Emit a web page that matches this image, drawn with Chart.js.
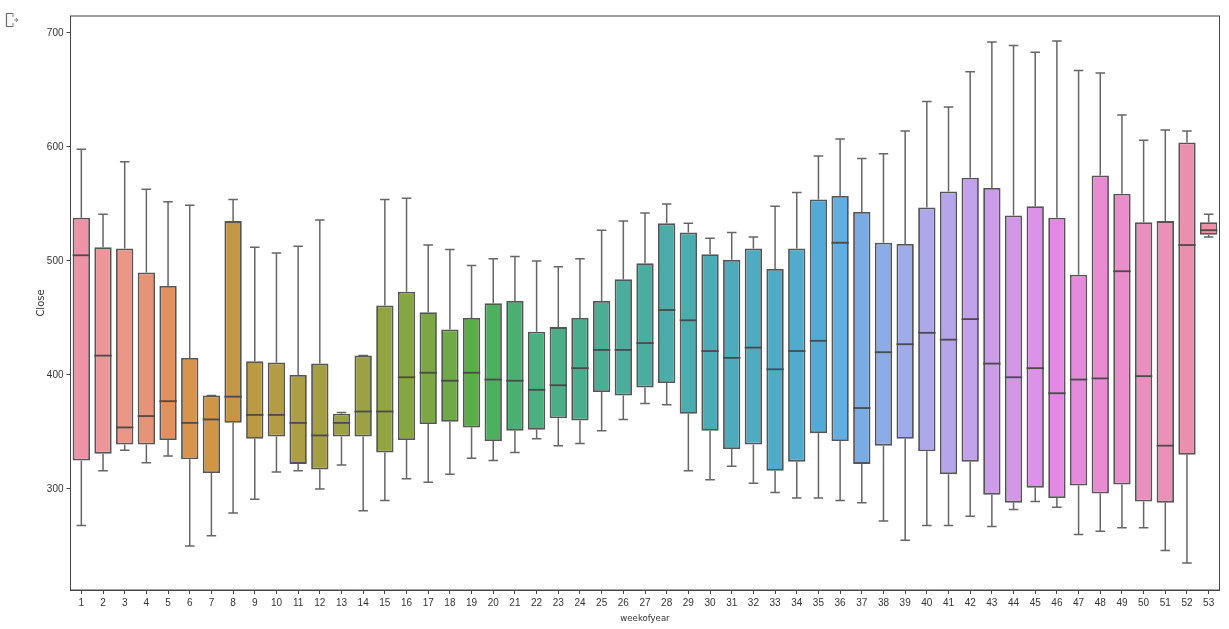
<!DOCTYPE html>
<html><head><meta charset="utf-8">
<style>html,body{margin:0;padding:0;background:#fff;overflow:hidden}
#wrap{position:relative;width:1229px;height:629px}
canvas{display:block}
svg{position:absolute;left:5px;top:12px}</style>
<script src="https://cdn.jsdelivr.net/npm/chart.js@4/dist/chart.umd.min.js"></script>
</head><body><div id="wrap">
<svg width="15" height="16" viewBox="0 0 15 16"><path d="M8 1.5H1.5V14.5H8" fill="none" stroke="#666" stroke-width="1.2"/><path d="M8 1.5V5M8 11V14.5M9 8H12.5M11 6L12.8 8L11 10" fill="none" stroke="#888" stroke-width="1.1"/></svg>
<canvas id="c" width="1229" height="629"></canvas></div>
<script>
const weeks=['1','2','3','4','5','6','7','8','9','10','11','12','13','14','15','16','17','18','19','20','21','22','23','24','25','26','27','28','29','30','31','32','33','34','35','36','37','38','39','40','41','42','43','44','45','46','47','48','49','50','51','52','53'];
const whiskerLow=[268,316,334,323,329,250,259,279,291,315,316,300,321,281,290,309,306,313,327,325,332,344,338,340,351,361,375,374,316,308,320,305,297,292,292,290,288,272,255,268,268,276,267,282,289,284,260,263,266,266,246,235,521];
const q1=[325,331,339,339,343,326,314,358,344,346,322,317,346,346,332,343,357,359,354,342,351,352,362,360,385,382,389,393,366,351,335,339,316,324,349,342,322,338,344,333,313,324,295,288,301,292,303,296,304,289,288,330,523];
const median=[505,417,354,364,377,358,361,381,365,365,358,347,358,368,368,398,402,395,402,396,395,387,391,406,422,422,428,457,448,421,415,424,405,421,430,516,371,420,427,437,431,449,410,398,406,384,396,397,491,399,338,514,527];
const q3=[538,512,511,490,478,415,382,535,412,411,400,410,366,417,461,473,455,440,450,463,465,438,442,450,465,484,498,533,525,506,501,511,493,511,554,557,543,516,515,547,561,573,564,540,548,538,488,575,559,534,535,604,534];
const whiskerHigh=[598,541,587,563,552,549,382,554,512,507,513,536,367,417,554,555,514,510,496,502,504,500,495,502,527,535,542,550,533,520,525,521,548,560,592,607,590,594,614,640,635,666,692,689,683,693,667,665,628,606,615,614,541];
const boxColors=['#ED92A7','#EB979A','#EA9689','#E69478','#E09160','#D8944C','#CF9645','#C39745','#BB9A44','#B39C43','#AC9E42','#A49F42','#9CA142','#9AA243','#93A443','#87A643','#7BA845','#6EAA46','#5AAE48','#4CB05F','#4BAF73','#4BAF7F','#4BAE87','#4BAD8E','#4BAD94','#4BAD9C','#4BACA0','#4BACA8','#4BACAE','#4CACB5','#4DABBB','#4EABC1','#4FABC6','#50ABCC','#52ABD6','#62ADE2','#79ACE4','#8CACE8','#A0ABE9','#ADA8EA','#B7A5EA','#C2A2EA','#CB9DE9','#D397E8','#DB92E8','#E488E4','#E58BDB','#E78CD2','#E88EC8','#E990BF','#EB90B7','#EB8FAE','#EE8FA8'];
const yTicks=[300,400,500,600,700];
const lineCol='#555555', font={family:"'Liberation Sans',sans-serif",size:10};
const boxParts={id:'boxParts',
 beforeDatasetsDraw(ch){const x=ch.scales.x,y=ch.scales.y,c=ch.ctx;c.save();c.strokeStyle='#666';c.lineWidth=1.5;
  const cap=x.getPixelForValue(1)-x.getPixelForValue(0);
  weeks.forEach((w,i)=>{const px=x.getPixelForValue(i),lo=y.getPixelForValue(whiskerLow[i]),hi=y.getPixelForValue(whiskerHigh[i]),
    a=y.getPixelForValue(q1[i]),b=y.getPixelForValue(q3[i]);
   c.beginPath();c.moveTo(px,lo);c.lineTo(px,a);c.moveTo(px,b);c.lineTo(px,hi);
   c.moveTo(px-cap*.22,lo);c.lineTo(px+cap*.22,lo);c.moveTo(px-cap*.22,hi);c.lineTo(px+cap*.22,hi);c.stroke();});
  c.restore();},
 afterDatasetsDraw(ch){const x=ch.scales.x,y=ch.scales.y,c=ch.ctx,A=ch.chartArea;c.save();c.strokeStyle='#4a4a4a';c.lineWidth=1.8;
  const w=(x.getPixelForValue(1)-x.getPixelForValue(0))*.4;
  weeks.forEach((_,i)=>{const px=x.getPixelForValue(i),m=y.getPixelForValue(median[i]);c.beginPath();c.moveTo(px-w,m);c.lineTo(px+w,m);c.stroke();});
  c.strokeStyle='#444';c.lineWidth=1;c.strokeRect(A.left,A.top,A.right-A.left,A.bottom-A.top);c.restore();}};
new Chart(document.getElementById('c'),{type:'bar',plugins:[boxParts],
 data:{labels:weeks,datasets:[{data:weeks.map((_,i)=>[q1[i],q3[i]]),backgroundColor:boxColors,borderColor:lineCol,borderWidth:1.8,borderSkipped:false,barPercentage:.8,categoryPercentage:1}]},
 options:{responsive:false,animation:false,devicePixelRatio:1,layout:{padding:{top:16,right:9.5,left:0,bottom:0}},
  plugins:{legend:{display:false},tooltip:{enabled:false},title:{display:false}},
  scales:{
   x:{offset:true,grid:{display:true,offset:false,drawOnChartArea:false,drawTicks:true,tickLength:4,color:'#444'},border:{color:'#444'},
      ticks:{autoSkip:false,maxRotation:0,minRotation:0,color:'#333',font,padding:3},
      title:{display:true,text:'weekofyear',color:'#333',font:{family:"'DejaVu Sans Condensed',sans-serif",size:9.5},padding:{top:0,bottom:5}},
      afterFit(s){s.height=39;}},
   y:{min:211.4,max:714.9,grid:{display:true,drawOnChartArea:false,drawTicks:true,tickLength:4,color:'#444'},border:{color:'#444'},
      afterBuildTicks(s){s.ticks=yTicks.map(v=>({value:v}));},
      ticks:{color:'#333',font,padding:3},
      title:{display:true,text:'Close',color:'#333',font:{family:"'DejaVu Sans',sans-serif",size:10},padding:{top:35,bottom:0}},
      afterFit(s){s.width=70.5;}}
  }}});
</script></body></html>
